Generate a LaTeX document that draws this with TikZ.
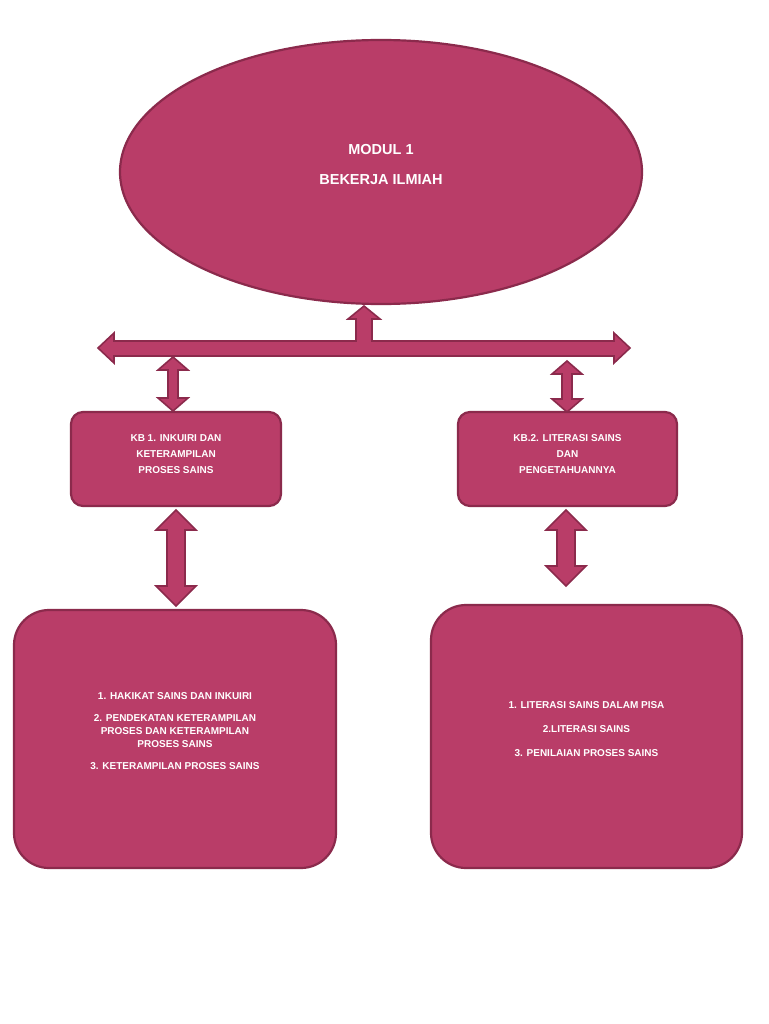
\documentclass[tikz,border=0pt]{standalone}
\usepackage{fontspec}
\setmainfont{Liberation Sans}
\usetikzlibrary{shapes.geometric}
\definecolor{fillc}{HTML}{B93D68}
\definecolor{edgec}{HTML}{8B2A4C}
\tikzset{
  shp/.style={fill=fillc,draw=edgec,line width=2.2pt},
  txt/.style={text=white,font=\bfseries\fontsize{10}{16}\selectfont,align=center},
}
% vertical double arrow: x, ytop, ybottom, shaft half, head half, head length
\newcommand\myVArrow[6]{%
  \filldraw[shp,line width=1.6pt] (#1,#2) -- (#1+#5,#2+#6) -- (#1+#4,#2+#6) -- (#1+#4,#3-#6) -- (#1+#5,#3-#6)
   -- (#1,#3) -- (#1-#5,#3-#6) -- (#1-#4,#3-#6) -- (#1-#4,#2+#6) -- (#1-#5,#2+#6) -- cycle;}
\begin{document}
\begin{tikzpicture}[x=1pt,y=-1pt]
\useasboundingbox (0,0) rectangle (768,1024);
\fill[white] (0,0) rectangle (768,1024);
\node[shp,ellipse,minimum width=522pt,minimum height=264pt,inner sep=0pt] (modul) at (381,172) {};
\node[text=white,font=\bfseries\fontsize{14.5}{30}\selectfont,align=center] (mt) at (381,165) {MODUL 1\\BEKERJA ILMIAH};
% T arrow
\filldraw[shp,line width=1.6pt] (98,348) -- (114,333) -- (114,341) -- (356,341) -- (356,319) -- (348,319) -- (364,306)
  -- (380,319) -- (372,319) -- (372,341) -- (614,341) -- (614,333) -- (630,348) -- (614,363) -- (614,356)
  -- (114,356) -- (114,363) -- cycle;
\myVArrow{173}{357}{411}{5}{15}{13}
\myVArrow{567}{361}{412}{5}{15}{13}
\myVArrow{176}{510}{606}{9}{20}{20}
\myVArrow{566}{510}{586}{9}{20}{20}
\node[shp,rounded corners=12pt,minimum width=210pt,minimum height=94pt] (kb1) at (176,459) {};
\node[txt] at (176,454) {KB 1. INKUIRI DAN\\KETERAMPILAN\\PROSES SAINS};
\node[shp,rounded corners=12pt,minimum width=219pt,minimum height=94pt] (kb2) at (567.5,459) {};
\node[txt] at (567.5,454) {KB.2. LITERASI SAINS\\DAN\\PENGETAHUANNYA};
\node[shp,rounded corners=35pt,minimum width=322pt,minimum height=258pt] (b1) at (175,739) {};
\node[txt,font=\bfseries\fontsize{10}{11}\selectfont] at (175,731) {1. HAKIKAT SAINS DAN INKUIRI\\[11pt]2. PENDEKATAN KETERAMPILAN\\[2pt]PROSES DAN KETERAMPILAN\\[2pt]PROSES SAINS\\[11pt]3. KETERAMPILAN PROSES SAINS};
\node[shp,rounded corners=35pt,minimum width=311pt,minimum height=263pt] (b2) at (586.5,736.5) {};
\node[txt,font=\bfseries\fontsize{10}{11}\selectfont] at (586.5,729) {1. LITERASI SAINS DALAM PISA\\[13pt]2.LITERASI SAINS\\[13pt]3. PENILAIAN PROSES SAINS};
\end{tikzpicture}
\end{document}
